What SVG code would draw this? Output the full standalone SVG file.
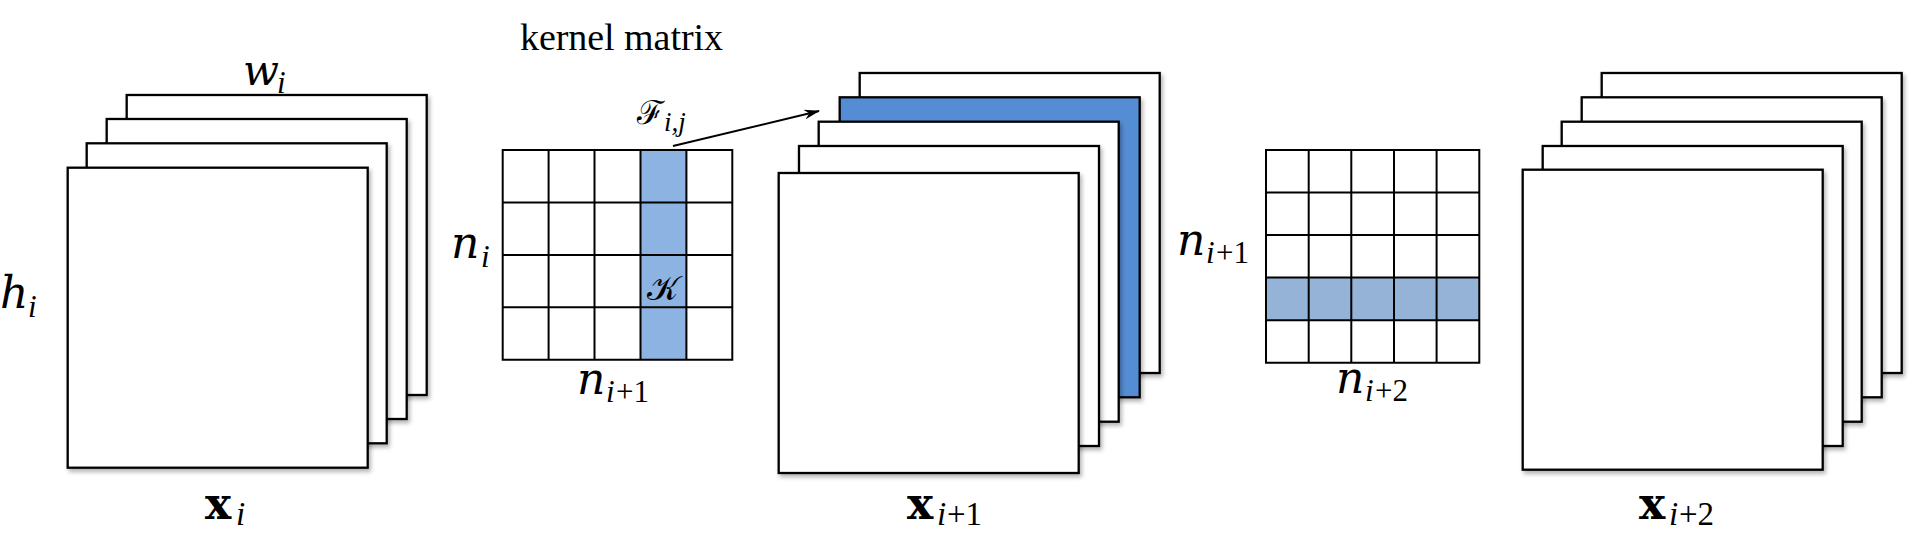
<svg xmlns="http://www.w3.org/2000/svg" width="1910" height="534" viewBox="0 0 1910 534">
<defs>
<filter id="sh" x="-10%" y="-10%" width="125%" height="125%">
<feDropShadow dx="2" dy="3" stdDeviation="2" flood-color="#000" flood-opacity="0.3"/>
</filter>
<marker id="ah" viewBox="0 0 16 10" refX="15" refY="5" markerWidth="16" markerHeight="10" markerUnits="userSpaceOnUse" orient="auto">
<path d="M0,0 L16,5 L0,10 L5,5 Z" fill="#000"/>
</marker>
</defs>
<style>
.sheet{fill:#fff;stroke:#000;stroke-width:2.3;filter:url(#sh)}
.blue{fill:#548DD4}
.cell{fill:none;stroke:#000;stroke-width:2}
.m{font-family:"DejaVu Serif",serif;font-style:italic;font-size:44px;fill:#000}
.s{font-family:"Liberation Serif",serif;font-style:italic;font-size:31px;fill:#000}
.su{font-family:"Liberation Serif",serif;font-style:normal;font-size:31px;fill:#000}
.xs{font-size:33px}
.b{font-family:"DejaVu Serif",serif;font-weight:bold;font-size:44px;fill:#000}
.t{font-family:"Liberation Serif",serif;font-size:38px;fill:#000}
.cal{font-family:"DejaVu Serif",serif;font-style:normal;fill:#000}
</style>
<rect width="1910" height="534" fill="#fff"/>

<g id="stack-xi">
<rect class="sheet" x="126.7" y="95" width="300" height="300"/>
<rect class="sheet" x="106.7" y="119" width="300" height="300"/>
<rect class="sheet" x="86.7" y="143.3" width="300" height="300"/>
<rect class="sheet" x="67.7" y="167.7" width="300" height="300"/>
<text class="m" x="243" y="85" style="font-size:42px">w</text><text class="s" x="277" y="93">i</text>
<text class="m" x="0" y="308">h</text><text class="s" x="28" y="317">i</text>
<text class="b" x="205" y="519">x</text><text class="s xs" x="236" y="525">i</text>
</g>

<g id="kernel1">
<text class="t" x="520" y="50" textLength="203">kernel matrix</text>
<rect x="640.5" y="150" width="45.9" height="209.7" fill="#8DB3E2"/>
<path class="cell" d="M502.7,150 H732.3 V359.7 H502.7 Z M548.6,150 V359.7 M594.5,150 V359.7 M640.5,150 V359.7 M686.4,150 V359.7 M502.7,202.4 H732.3 M502.7,254.9 H732.3 M502.7,307.3 H732.3"/>
<text class="m" x="451" y="258">n</text><text class="s" x="481" y="267">i</text>
<text class="m" x="577" y="394">n</text><text class="s" x="606" y="402">i</text><text class="su" x="616" y="402">+1</text>
<text class="cal" x="647" y="300" style="font-size:34px">𝒦</text>
<text class="cal" x="637" y="124" style="font-size:33px">ℱ</text><text class="s" x="664" y="131" style="font-size:27px">i,j</text>
</g>

<g id="stack-xi1">
<rect class="sheet" x="859.7" y="73" width="300" height="300"/>
<rect class="sheet blue" x="839.7" y="97.3" width="300" height="300"/>
<rect class="sheet" x="818.7" y="121.7" width="300" height="300"/>
<rect class="sheet" x="799" y="146" width="300" height="300"/>
<rect class="sheet" x="778.7" y="173" width="300" height="300"/>
<text class="b" x="907" y="519">x</text><text class="s xs" x="937" y="525">i</text><text class="su xs" x="947" y="525">+1</text>
</g>

<g id="kernel2">
<rect x="1266" y="277.6" width="213.3" height="42.6" fill="#95B3D7"/>
<path class="cell" d="M1266,150 H1479.3 V362.7 H1266 Z M1308.7,150 V362.7 M1351.3,150 V362.7 M1394,150 V362.7 M1436.6,150 V362.7 M1266,192.5 H1479.3 M1266,235.1 H1479.3 M1266,277.6 H1479.3 M1266,320.2 H1479.3"/>
<text class="m" x="1177" y="255">n</text><text class="s" x="1206" y="263">i</text><text class="su" x="1216" y="263">+1</text>
<text class="m" x="1336" y="393">n</text><text class="s" x="1365" y="401">i</text><text class="su" x="1375" y="401">+2</text>
</g>

<g id="stack-xi2">
<rect class="sheet" x="1601.7" y="73" width="300" height="300"/>
<rect class="sheet" x="1581.7" y="97.3" width="300" height="300"/>
<rect class="sheet" x="1561.7" y="121.7" width="300" height="300"/>
<rect class="sheet" x="1542.7" y="146" width="300" height="300"/>
<rect class="sheet" x="1522.7" y="169.7" width="300" height="300"/>
<text class="b" x="1639" y="519">x</text><text class="s xs" x="1669" y="525">i</text><text class="su xs" x="1679" y="525">+2</text>
</g>

<g id="connectors">
<line x1="673" y1="146" x2="819" y2="111" stroke="#000" stroke-width="2" marker-end="url(#ah)"/>
</g>
</svg>
